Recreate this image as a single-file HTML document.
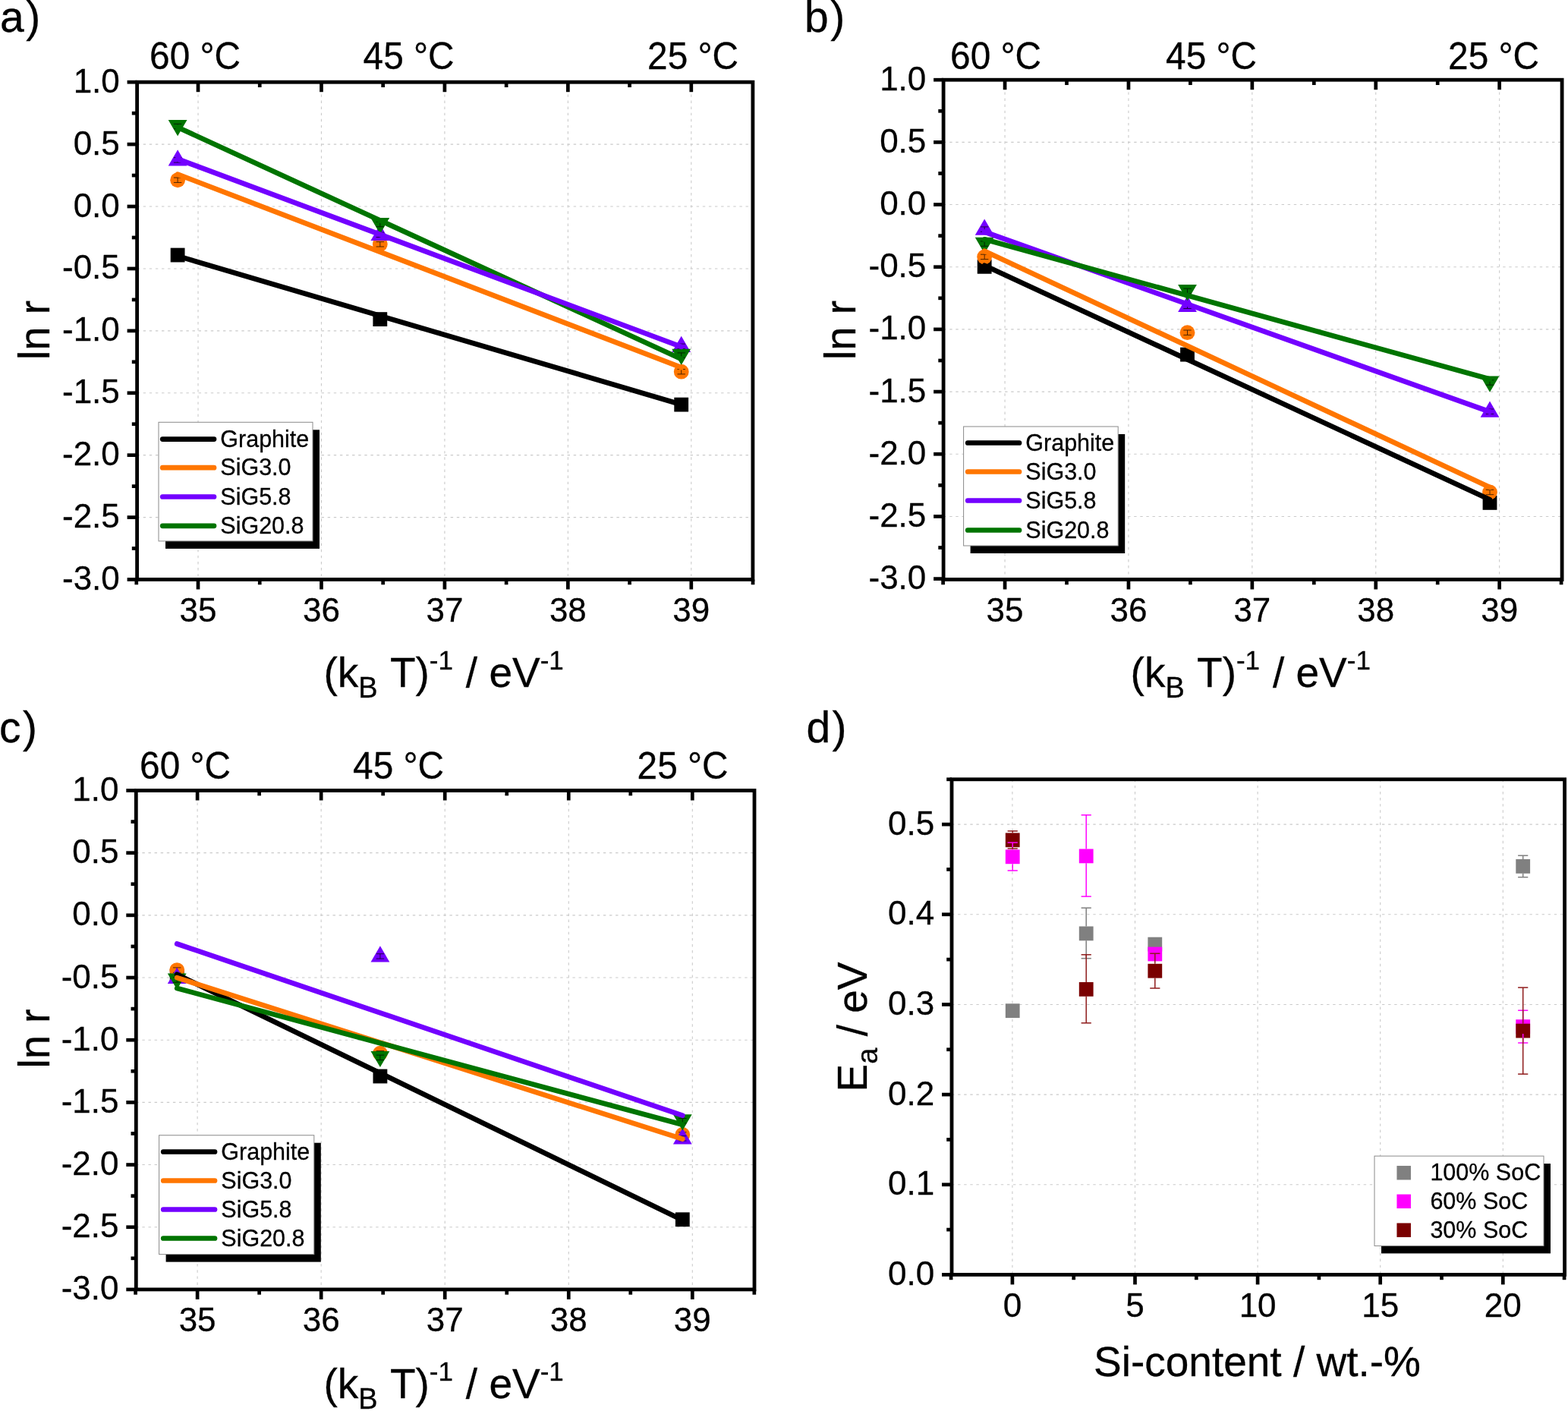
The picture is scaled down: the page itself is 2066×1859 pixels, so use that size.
<!DOCTYPE html>
<html lang="en">
<head>
<meta charset="utf-8">
<title>Arrhenius plots</title>
<style>
html,body{margin:0;padding:0;background:#fff;}
body{width:2066px;height:1859px;overflow:hidden;}
#fig{width:2066px;height:1859px;}
svg text{font-family:"Liberation Sans", Arial, Helvetica, sans-serif;stroke:#000;stroke-width:0.3px;}
</style>
</head>
<body>
<div id="fig">
<svg width="2066" height="1859" viewBox="0 0 2066 1859" font-family='"Liberation Sans", Arial, Helvetica, sans-serif' style="display:block">
<rect x="0" y="0" width="2066" height="1859" fill="#fff"/>
<g>
<line x1="261" y1="108.2" x2="261" y2="763.5" stroke="#cacaca" stroke-width="1.1" stroke-dasharray="3.4 4.7"/>
<line x1="423.45" y1="108.2" x2="423.45" y2="763.5" stroke="#cacaca" stroke-width="1.1" stroke-dasharray="3.4 4.7"/>
<line x1="585.9" y1="108.2" x2="585.9" y2="763.5" stroke="#cacaca" stroke-width="1.1" stroke-dasharray="3.4 4.7"/>
<line x1="748.35" y1="108.2" x2="748.35" y2="763.5" stroke="#cacaca" stroke-width="1.1" stroke-dasharray="3.4 4.7"/>
<line x1="910.8" y1="108.2" x2="910.8" y2="763.5" stroke="#cacaca" stroke-width="1.1" stroke-dasharray="3.4 4.7"/>
<line x1="180.6" y1="190.11" x2="991.9" y2="190.11" stroke="#cacaca" stroke-width="1.1" stroke-dasharray="3.4 4.7"/>
<line x1="180.6" y1="272.02" x2="991.9" y2="272.02" stroke="#cacaca" stroke-width="1.1" stroke-dasharray="3.4 4.7"/>
<line x1="180.6" y1="353.94" x2="991.9" y2="353.94" stroke="#cacaca" stroke-width="1.1" stroke-dasharray="3.4 4.7"/>
<line x1="180.6" y1="435.85" x2="991.9" y2="435.85" stroke="#cacaca" stroke-width="1.1" stroke-dasharray="3.4 4.7"/>
<line x1="180.6" y1="517.76" x2="991.9" y2="517.76" stroke="#cacaca" stroke-width="1.1" stroke-dasharray="3.4 4.7"/>
<line x1="180.6" y1="599.67" x2="991.9" y2="599.67" stroke="#cacaca" stroke-width="1.1" stroke-dasharray="3.4 4.7"/>
<line x1="180.6" y1="681.59" x2="991.9" y2="681.59" stroke="#cacaca" stroke-width="1.1" stroke-dasharray="3.4 4.7"/>
<rect x="224.7" y="326.65" width="18.8" height="18.8" fill="#000"/>
<rect x="491.4" y="411.2" width="18.8" height="18.8" fill="#000"/>
<rect x="888.3" y="523.7" width="18.8" height="18.8" fill="#000"/>
<circle cx="234.1" cy="237.25" r="9.9" fill="#ff7600"/>
<g opacity="0.7">
<line x1="234.1" y1="234.05" x2="234.1" y2="240.45" stroke="#000" stroke-width="1" />
<line x1="228.9" y1="234.05" x2="239.3" y2="234.05" stroke="#000" stroke-width="1" />
<line x1="228.9" y1="240.45" x2="239.3" y2="240.45" stroke="#000" stroke-width="1" />
</g>
<circle cx="500.8" cy="321.8" r="9.9" fill="#ff7600"/>
<g opacity="0.7">
<line x1="500.8" y1="318.6" x2="500.8" y2="325" stroke="#000" stroke-width="1" />
<line x1="495.6" y1="318.6" x2="506" y2="318.6" stroke="#000" stroke-width="1" />
<line x1="495.6" y1="325" x2="506" y2="325" stroke="#000" stroke-width="1" />
</g>
<circle cx="897.7" cy="489.7" r="9.9" fill="#ff7600"/>
<g opacity="0.7">
<line x1="897.7" y1="486.5" x2="897.7" y2="492.9" stroke="#000" stroke-width="1" />
<line x1="892.5" y1="486.5" x2="902.9" y2="486.5" stroke="#000" stroke-width="1" />
<line x1="892.5" y1="492.9" x2="902.9" y2="492.9" stroke="#000" stroke-width="1" />
</g>
<polygon points="234.1,197.3 246.5,218.5 221.7,218.5" fill="#7300ff"/>
<g opacity="0.7">
<line x1="234.1" y1="207.7" x2="234.1" y2="214.1" stroke="#000" stroke-width="1" />
<line x1="228.9" y1="207.7" x2="239.3" y2="207.7" stroke="#000" stroke-width="1" />
<line x1="228.9" y1="214.1" x2="239.3" y2="214.1" stroke="#000" stroke-width="1" />
</g>
<polygon points="500.8,295.7 513.2,316.9 488.4,316.9" fill="#7300ff"/>
<g opacity="0.7">
<line x1="500.8" y1="306.1" x2="500.8" y2="312.5" stroke="#000" stroke-width="1" />
<line x1="495.6" y1="306.1" x2="506" y2="306.1" stroke="#000" stroke-width="1" />
<line x1="495.6" y1="312.5" x2="506" y2="312.5" stroke="#000" stroke-width="1" />
</g>
<polygon points="897.7,442.7 910.1,463.9 885.3,463.9" fill="#7300ff"/>
<g opacity="0.7">
<line x1="897.7" y1="453.1" x2="897.7" y2="459.5" stroke="#000" stroke-width="1" />
<line x1="892.5" y1="453.1" x2="902.9" y2="453.1" stroke="#000" stroke-width="1" />
<line x1="892.5" y1="459.5" x2="902.9" y2="459.5" stroke="#000" stroke-width="1" />
</g>
<polygon points="234.1,179.3 246.5,158.1 221.7,158.1" fill="#007400"/>
<g opacity="0.7">
<line x1="234.1" y1="163.3" x2="234.1" y2="169.7" stroke="#000" stroke-width="1" />
<line x1="228.9" y1="163.3" x2="239.3" y2="163.3" stroke="#000" stroke-width="1" />
<line x1="228.9" y1="169.7" x2="239.3" y2="169.7" stroke="#000" stroke-width="1" />
</g>
<polygon points="500.8,308.3 513.2,287.1 488.4,287.1" fill="#007400"/>
<g opacity="0.7">
<line x1="500.8" y1="292.3" x2="500.8" y2="298.7" stroke="#000" stroke-width="1" />
<line x1="495.6" y1="292.3" x2="506" y2="292.3" stroke="#000" stroke-width="1" />
<line x1="495.6" y1="298.7" x2="506" y2="298.7" stroke="#000" stroke-width="1" />
</g>
<polygon points="897.7,480.9 910.1,459.7 885.3,459.7" fill="#007400"/>
<g opacity="0.7">
<line x1="897.7" y1="464.9" x2="897.7" y2="471.3" stroke="#000" stroke-width="1" />
<line x1="892.5" y1="464.9" x2="902.9" y2="464.9" stroke="#000" stroke-width="1" />
<line x1="892.5" y1="471.3" x2="902.9" y2="471.3" stroke="#000" stroke-width="1" />
</g>
<polyline points="234.1,337.4 897.7,533" fill="none" stroke="#000" stroke-width="6.7" stroke-linejoin="round" stroke-linecap="round"/>
<polyline points="234.1,229.6 897.7,484.1" fill="none" stroke="#ff7600" stroke-width="6.7" stroke-linejoin="round" stroke-linecap="round"/>
<polyline points="234.1,167.7 897.7,473" fill="none" stroke="#007400" stroke-width="6.7" stroke-linejoin="round" stroke-linecap="round"/>
<polyline points="234.1,209.5 897.7,456.8" fill="none" stroke="#7300ff" stroke-width="6.7" stroke-linejoin="round" stroke-linecap="round"/>
<rect x="218" y="566.3" width="203" height="156.6" fill="#000"/>
<rect x="209" y="556.3" width="203" height="156.6" fill="#fff" stroke="#8a8a8a" stroke-width="1"/>
<line x1="214.2" y1="578.6" x2="282" y2="578.6" stroke="#000" stroke-width="6.7" stroke-linecap="round"/>
<text transform="translate(290.3 588.6) scale(1 1.02)" font-size="30.5" text-anchor="start" fill="#000" >Graphite</text>
<line x1="214.2" y1="616.2" x2="282" y2="616.2" stroke="#ff7600" stroke-width="6.7" stroke-linecap="round"/>
<text transform="translate(290.3 626.2) scale(1 1.02)" font-size="30.5" text-anchor="start" fill="#000" >SiG3.0</text>
<line x1="214.2" y1="654.5" x2="282" y2="654.5" stroke="#7300ff" stroke-width="6.7" stroke-linecap="round"/>
<text transform="translate(290.3 664.5) scale(1 1.02)" font-size="30.5" text-anchor="start" fill="#000" >SiG5.8</text>
<line x1="214.2" y1="692.8" x2="282" y2="692.8" stroke="#007400" stroke-width="6.7" stroke-linecap="round"/>
<text transform="translate(290.3 702.8) scale(1 1.02)" font-size="30.5" text-anchor="start" fill="#000" >SiG20.8</text>
<rect x="180.6" y="108.2" width="811.3" height="655.3" fill="none" stroke="#000" stroke-width="4.8"/>
<line x1="167.6" y1="108.2" x2="180.6" y2="108.2" stroke="#000" stroke-width="4.7" />
<line x1="173.8" y1="149.16" x2="180.6" y2="149.16" stroke="#000" stroke-width="4.7" />
<line x1="167.6" y1="190.11" x2="180.6" y2="190.11" stroke="#000" stroke-width="4.7" />
<line x1="173.8" y1="231.07" x2="180.6" y2="231.07" stroke="#000" stroke-width="4.7" />
<line x1="167.6" y1="272.02" x2="180.6" y2="272.02" stroke="#000" stroke-width="4.7" />
<line x1="173.8" y1="312.98" x2="180.6" y2="312.98" stroke="#000" stroke-width="4.7" />
<line x1="167.6" y1="353.94" x2="180.6" y2="353.94" stroke="#000" stroke-width="4.7" />
<line x1="173.8" y1="394.89" x2="180.6" y2="394.89" stroke="#000" stroke-width="4.7" />
<line x1="167.6" y1="435.85" x2="180.6" y2="435.85" stroke="#000" stroke-width="4.7" />
<line x1="173.8" y1="476.81" x2="180.6" y2="476.81" stroke="#000" stroke-width="4.7" />
<line x1="167.6" y1="517.76" x2="180.6" y2="517.76" stroke="#000" stroke-width="4.7" />
<line x1="173.8" y1="558.72" x2="180.6" y2="558.72" stroke="#000" stroke-width="4.7" />
<line x1="167.6" y1="599.67" x2="180.6" y2="599.67" stroke="#000" stroke-width="4.7" />
<line x1="173.8" y1="640.63" x2="180.6" y2="640.63" stroke="#000" stroke-width="4.7" />
<line x1="167.6" y1="681.59" x2="180.6" y2="681.59" stroke="#000" stroke-width="4.7" />
<line x1="173.8" y1="722.54" x2="180.6" y2="722.54" stroke="#000" stroke-width="4.7" />
<line x1="167.6" y1="763.5" x2="180.6" y2="763.5" stroke="#000" stroke-width="4.7" />
<line x1="179.78" y1="763.5" x2="179.78" y2="770.3" stroke="#000" stroke-width="4.7" />
<line x1="261" y1="763.5" x2="261" y2="776.5" stroke="#000" stroke-width="4.7" />
<line x1="342.23" y1="763.5" x2="342.23" y2="770.3" stroke="#000" stroke-width="4.7" />
<line x1="423.45" y1="763.5" x2="423.45" y2="776.5" stroke="#000" stroke-width="4.7" />
<line x1="504.67" y1="763.5" x2="504.67" y2="770.3" stroke="#000" stroke-width="4.7" />
<line x1="585.9" y1="763.5" x2="585.9" y2="776.5" stroke="#000" stroke-width="4.7" />
<line x1="667.12" y1="763.5" x2="667.12" y2="770.3" stroke="#000" stroke-width="4.7" />
<line x1="748.35" y1="763.5" x2="748.35" y2="776.5" stroke="#000" stroke-width="4.7" />
<line x1="829.57" y1="763.5" x2="829.57" y2="770.3" stroke="#000" stroke-width="4.7" />
<line x1="910.8" y1="763.5" x2="910.8" y2="776.5" stroke="#000" stroke-width="4.7" />
<line x1="992.02" y1="763.5" x2="992.02" y2="770.3" stroke="#000" stroke-width="4.7" />
<line x1="261" y1="108.2" x2="261" y2="121.2" stroke="#000" stroke-width="4.7" />
<line x1="342.23" y1="108.2" x2="342.23" y2="115" stroke="#000" stroke-width="4.7" />
<line x1="423.45" y1="108.2" x2="423.45" y2="121.2" stroke="#000" stroke-width="4.7" />
<line x1="504.67" y1="108.2" x2="504.67" y2="115" stroke="#000" stroke-width="4.7" />
<line x1="585.9" y1="108.2" x2="585.9" y2="121.2" stroke="#000" stroke-width="4.7" />
<line x1="667.12" y1="108.2" x2="667.12" y2="115" stroke="#000" stroke-width="4.7" />
<line x1="748.35" y1="108.2" x2="748.35" y2="121.2" stroke="#000" stroke-width="4.7" />
<line x1="829.57" y1="108.2" x2="829.57" y2="115" stroke="#000" stroke-width="4.7" />
<line x1="910.8" y1="108.2" x2="910.8" y2="121.2" stroke="#000" stroke-width="4.7" />
<text transform="translate(157.8 121.7) scale(1 1.02)" font-size="44" text-anchor="end" fill="#000" >1.0</text>
<text transform="translate(157.8 203.61) scale(1 1.02)" font-size="44" text-anchor="end" fill="#000" >0.5</text>
<text transform="translate(157.8 285.52) scale(1 1.02)" font-size="44" text-anchor="end" fill="#000" >0.0</text>
<text transform="translate(157.8 367.44) scale(1 1.02)" font-size="44" text-anchor="end" fill="#000" >-0.5</text>
<text transform="translate(157.8 449.35) scale(1 1.02)" font-size="44" text-anchor="end" fill="#000" >-1.0</text>
<text transform="translate(157.8 531.26) scale(1 1.02)" font-size="44" text-anchor="end" fill="#000" >-1.5</text>
<text transform="translate(157.8 613.17) scale(1 1.02)" font-size="44" text-anchor="end" fill="#000" >-2.0</text>
<text transform="translate(157.8 695.09) scale(1 1.02)" font-size="44" text-anchor="end" fill="#000" >-2.5</text>
<text transform="translate(157.8 777) scale(1 1.02)" font-size="44" text-anchor="end" fill="#000" >-3.0</text>
<text transform="translate(261 819) scale(1 1.02)" font-size="44" text-anchor="middle" fill="#000" >35</text>
<text transform="translate(423.45 819) scale(1 1.02)" font-size="44" text-anchor="middle" fill="#000" >36</text>
<text transform="translate(585.9 819) scale(1 1.02)" font-size="44" text-anchor="middle" fill="#000" >37</text>
<text transform="translate(748.35 819) scale(1 1.02)" font-size="44" text-anchor="middle" fill="#000" >38</text>
<text transform="translate(910.8 819) scale(1 1.02)" font-size="44" text-anchor="middle" fill="#000" >39</text>
<text transform="translate(257 90.5) scale(1 1.05)" font-size="47.7" text-anchor="middle" fill="#000" >60 °C</text>
<text transform="translate(538.5 90.5) scale(1 1.05)" font-size="47.7" text-anchor="middle" fill="#000" >45 °C</text>
<text transform="translate(913 90.5) scale(1 1.05)" font-size="47.7" text-anchor="middle" fill="#000" >25 °C</text>
<text transform="translate(65.4 435) rotate(-90) scale(1 1.02)" font-size="56.4" text-anchor="middle">ln r</text>
<text transform="translate(426.5 904.5) scale(1 1.02)" font-size="55" text-anchor="start">(k<tspan font-size="38" dy="14">B</tspan><tspan dy="-14" dx="2"> T)</tspan><tspan font-size="35" dy="-22">-1</tspan><tspan dy="22" dx="1.6"> / eV</tspan><tspan font-size="35" dy="-22">-1</tspan></text>
<text transform="translate(0 42) scale(1 1.0)" font-size="57" text-anchor="start" fill="#000" >a<tspan dx="2.5">)</tspan></text>
</g>
<g>
<line x1="1324.05" y1="105.2" x2="1324.05" y2="763.5" stroke="#cacaca" stroke-width="1.1" stroke-dasharray="3.4 4.7"/>
<line x1="1486.95" y1="105.2" x2="1486.95" y2="763.5" stroke="#cacaca" stroke-width="1.1" stroke-dasharray="3.4 4.7"/>
<line x1="1649.85" y1="105.2" x2="1649.85" y2="763.5" stroke="#cacaca" stroke-width="1.1" stroke-dasharray="3.4 4.7"/>
<line x1="1812.75" y1="105.2" x2="1812.75" y2="763.5" stroke="#cacaca" stroke-width="1.1" stroke-dasharray="3.4 4.7"/>
<line x1="1975.65" y1="105.2" x2="1975.65" y2="763.5" stroke="#cacaca" stroke-width="1.1" stroke-dasharray="3.4 4.7"/>
<line x1="1243.1" y1="187.38" x2="2058.1" y2="187.38" stroke="#cacaca" stroke-width="1.1" stroke-dasharray="3.4 4.7"/>
<line x1="1243.1" y1="269.55" x2="2058.1" y2="269.55" stroke="#cacaca" stroke-width="1.1" stroke-dasharray="3.4 4.7"/>
<line x1="1243.1" y1="351.72" x2="2058.1" y2="351.72" stroke="#cacaca" stroke-width="1.1" stroke-dasharray="3.4 4.7"/>
<line x1="1243.1" y1="433.9" x2="2058.1" y2="433.9" stroke="#cacaca" stroke-width="1.1" stroke-dasharray="3.4 4.7"/>
<line x1="1243.1" y1="516.08" x2="2058.1" y2="516.08" stroke="#cacaca" stroke-width="1.1" stroke-dasharray="3.4 4.7"/>
<line x1="1243.1" y1="598.25" x2="2058.1" y2="598.25" stroke="#cacaca" stroke-width="1.1" stroke-dasharray="3.4 4.7"/>
<line x1="1243.1" y1="680.43" x2="2058.1" y2="680.43" stroke="#cacaca" stroke-width="1.1" stroke-dasharray="3.4 4.7"/>
<rect x="1287.75" y="341.9" width="18.8" height="18.8" fill="#000"/>
<rect x="1555.1" y="457.7" width="18.8" height="18.8" fill="#000"/>
<rect x="1953.6" y="653" width="18.8" height="18.8" fill="#000"/>
<circle cx="1297.15" cy="338.4" r="9.9" fill="#ff7600"/>
<g opacity="0.7">
<line x1="1297.15" y1="335.2" x2="1297.15" y2="341.6" stroke="#000" stroke-width="1" />
<line x1="1291.95" y1="335.2" x2="1302.35" y2="335.2" stroke="#000" stroke-width="1" />
<line x1="1291.95" y1="341.6" x2="1302.35" y2="341.6" stroke="#000" stroke-width="1" />
</g>
<circle cx="1564.5" cy="438.2" r="9.9" fill="#ff7600"/>
<g opacity="0.7">
<line x1="1564.5" y1="435" x2="1564.5" y2="441.4" stroke="#000" stroke-width="1" />
<line x1="1559.3" y1="435" x2="1569.7" y2="435" stroke="#000" stroke-width="1" />
<line x1="1559.3" y1="441.4" x2="1569.7" y2="441.4" stroke="#000" stroke-width="1" />
</g>
<circle cx="1963" cy="648.5" r="9.9" fill="#ff7600"/>
<g opacity="0.7">
<line x1="1963" y1="645.3" x2="1963" y2="651.7" stroke="#000" stroke-width="1" />
<line x1="1957.8" y1="645.3" x2="1968.2" y2="645.3" stroke="#000" stroke-width="1" />
<line x1="1957.8" y1="651.7" x2="1968.2" y2="651.7" stroke="#000" stroke-width="1" />
</g>
<polygon points="1297.15,288.5 1309.55,309.7 1284.75,309.7" fill="#7300ff"/>
<g opacity="0.7">
<line x1="1297.15" y1="298.9" x2="1297.15" y2="305.3" stroke="#000" stroke-width="1" />
<line x1="1291.95" y1="298.9" x2="1302.35" y2="298.9" stroke="#000" stroke-width="1" />
<line x1="1291.95" y1="305.3" x2="1302.35" y2="305.3" stroke="#000" stroke-width="1" />
</g>
<polygon points="1564.5,389.7 1576.9,410.9 1552.1,410.9" fill="#7300ff"/>
<g opacity="0.7">
<line x1="1564.5" y1="400.1" x2="1564.5" y2="406.5" stroke="#000" stroke-width="1" />
<line x1="1559.3" y1="400.1" x2="1569.7" y2="400.1" stroke="#000" stroke-width="1" />
<line x1="1559.3" y1="406.5" x2="1569.7" y2="406.5" stroke="#000" stroke-width="1" />
</g>
<polygon points="1963,528.6 1975.4,549.8 1950.6,549.8" fill="#7300ff"/>
<g opacity="0.7">
<line x1="1963" y1="539" x2="1963" y2="545.4" stroke="#000" stroke-width="1" />
<line x1="1957.8" y1="539" x2="1968.2" y2="539" stroke="#000" stroke-width="1" />
<line x1="1957.8" y1="545.4" x2="1968.2" y2="545.4" stroke="#000" stroke-width="1" />
</g>
<polygon points="1297.15,333.9 1309.55,312.7 1284.75,312.7" fill="#007400"/>
<g opacity="0.7">
<line x1="1297.15" y1="317.9" x2="1297.15" y2="324.3" stroke="#000" stroke-width="1" />
<line x1="1291.95" y1="317.9" x2="1302.35" y2="317.9" stroke="#000" stroke-width="1" />
<line x1="1291.95" y1="324.3" x2="1302.35" y2="324.3" stroke="#000" stroke-width="1" />
</g>
<polygon points="1564.5,396.25 1576.9,375.05 1552.1,375.05" fill="#007400"/>
<g opacity="0.7">
<line x1="1564.5" y1="380.25" x2="1564.5" y2="386.65" stroke="#000" stroke-width="1" />
<line x1="1559.3" y1="380.25" x2="1569.7" y2="380.25" stroke="#000" stroke-width="1" />
<line x1="1559.3" y1="386.65" x2="1569.7" y2="386.65" stroke="#000" stroke-width="1" />
</g>
<polygon points="1963,516.8 1975.4,495.6 1950.6,495.6" fill="#007400"/>
<g opacity="0.7">
<line x1="1963" y1="500.8" x2="1963" y2="507.2" stroke="#000" stroke-width="1" />
<line x1="1957.8" y1="500.8" x2="1968.2" y2="500.8" stroke="#000" stroke-width="1" />
<line x1="1957.8" y1="507.2" x2="1968.2" y2="507.2" stroke="#000" stroke-width="1" />
</g>
<polyline points="1297.15,349.7 1963,658.2" fill="none" stroke="#000" stroke-width="6.7" stroke-linejoin="round" stroke-linecap="round"/>
<polyline points="1297.15,330.7 1963,642" fill="none" stroke="#ff7600" stroke-width="6.7" stroke-linejoin="round" stroke-linecap="round"/>
<polyline points="1297.15,305.5 1963,542.5" fill="none" stroke="#7300ff" stroke-width="6.7" stroke-linejoin="round" stroke-linecap="round"/>
<polyline points="1297.15,315.3 1963,499.6" fill="none" stroke="#007400" stroke-width="6.7" stroke-linejoin="round" stroke-linecap="round"/>
<rect x="1278.6" y="572" width="203.6" height="157" fill="#000"/>
<rect x="1269.6" y="562" width="203.6" height="157" fill="#fff" stroke="#8a8a8a" stroke-width="1"/>
<line x1="1275.2" y1="583.5" x2="1343" y2="583.5" stroke="#000" stroke-width="6.7" stroke-linecap="round"/>
<text transform="translate(1351.3 593.5) scale(1 1.02)" font-size="30.5" text-anchor="start" fill="#000" >Graphite</text>
<line x1="1275.2" y1="621.5" x2="1343" y2="621.5" stroke="#ff7600" stroke-width="6.7" stroke-linecap="round"/>
<text transform="translate(1351.3 631.5) scale(1 1.02)" font-size="30.5" text-anchor="start" fill="#000" >SiG3.0</text>
<line x1="1275.2" y1="659.5" x2="1343" y2="659.5" stroke="#7300ff" stroke-width="6.7" stroke-linecap="round"/>
<text transform="translate(1351.3 669.5) scale(1 1.02)" font-size="30.5" text-anchor="start" fill="#000" >SiG5.8</text>
<line x1="1275.2" y1="698.5" x2="1343" y2="698.5" stroke="#007400" stroke-width="6.7" stroke-linecap="round"/>
<text transform="translate(1351.3 708.5) scale(1 1.02)" font-size="30.5" text-anchor="start" fill="#000" >SiG20.8</text>
<rect x="1243.1" y="105.2" width="815" height="658.3" fill="none" stroke="#000" stroke-width="4.8"/>
<line x1="1230.1" y1="105.2" x2="1243.1" y2="105.2" stroke="#000" stroke-width="4.7" />
<line x1="1236.3" y1="146.29" x2="1243.1" y2="146.29" stroke="#000" stroke-width="4.7" />
<line x1="1230.1" y1="187.38" x2="1243.1" y2="187.38" stroke="#000" stroke-width="4.7" />
<line x1="1236.3" y1="228.46" x2="1243.1" y2="228.46" stroke="#000" stroke-width="4.7" />
<line x1="1230.1" y1="269.55" x2="1243.1" y2="269.55" stroke="#000" stroke-width="4.7" />
<line x1="1236.3" y1="310.64" x2="1243.1" y2="310.64" stroke="#000" stroke-width="4.7" />
<line x1="1230.1" y1="351.72" x2="1243.1" y2="351.72" stroke="#000" stroke-width="4.7" />
<line x1="1236.3" y1="392.81" x2="1243.1" y2="392.81" stroke="#000" stroke-width="4.7" />
<line x1="1230.1" y1="433.9" x2="1243.1" y2="433.9" stroke="#000" stroke-width="4.7" />
<line x1="1236.3" y1="474.99" x2="1243.1" y2="474.99" stroke="#000" stroke-width="4.7" />
<line x1="1230.1" y1="516.08" x2="1243.1" y2="516.08" stroke="#000" stroke-width="4.7" />
<line x1="1236.3" y1="557.16" x2="1243.1" y2="557.16" stroke="#000" stroke-width="4.7" />
<line x1="1230.1" y1="598.25" x2="1243.1" y2="598.25" stroke="#000" stroke-width="4.7" />
<line x1="1236.3" y1="639.34" x2="1243.1" y2="639.34" stroke="#000" stroke-width="4.7" />
<line x1="1230.1" y1="680.43" x2="1243.1" y2="680.43" stroke="#000" stroke-width="4.7" />
<line x1="1236.3" y1="721.51" x2="1243.1" y2="721.51" stroke="#000" stroke-width="4.7" />
<line x1="1230.1" y1="762.6" x2="1243.1" y2="762.6" stroke="#000" stroke-width="4.7" />
<line x1="1242.6" y1="763.5" x2="1242.6" y2="770.3" stroke="#000" stroke-width="4.7" />
<line x1="1324.05" y1="763.5" x2="1324.05" y2="776.5" stroke="#000" stroke-width="4.7" />
<line x1="1405.5" y1="763.5" x2="1405.5" y2="770.3" stroke="#000" stroke-width="4.7" />
<line x1="1486.95" y1="763.5" x2="1486.95" y2="776.5" stroke="#000" stroke-width="4.7" />
<line x1="1568.4" y1="763.5" x2="1568.4" y2="770.3" stroke="#000" stroke-width="4.7" />
<line x1="1649.85" y1="763.5" x2="1649.85" y2="776.5" stroke="#000" stroke-width="4.7" />
<line x1="1731.3" y1="763.5" x2="1731.3" y2="770.3" stroke="#000" stroke-width="4.7" />
<line x1="1812.75" y1="763.5" x2="1812.75" y2="776.5" stroke="#000" stroke-width="4.7" />
<line x1="1894.2" y1="763.5" x2="1894.2" y2="770.3" stroke="#000" stroke-width="4.7" />
<line x1="1975.65" y1="763.5" x2="1975.65" y2="776.5" stroke="#000" stroke-width="4.7" />
<line x1="2057.1" y1="763.5" x2="2057.1" y2="770.3" stroke="#000" stroke-width="4.7" />
<line x1="1324.05" y1="105.2" x2="1324.05" y2="118.2" stroke="#000" stroke-width="4.7" />
<line x1="1405.5" y1="105.2" x2="1405.5" y2="112" stroke="#000" stroke-width="4.7" />
<line x1="1486.95" y1="105.2" x2="1486.95" y2="118.2" stroke="#000" stroke-width="4.7" />
<line x1="1568.4" y1="105.2" x2="1568.4" y2="112" stroke="#000" stroke-width="4.7" />
<line x1="1649.85" y1="105.2" x2="1649.85" y2="118.2" stroke="#000" stroke-width="4.7" />
<line x1="1731.3" y1="105.2" x2="1731.3" y2="112" stroke="#000" stroke-width="4.7" />
<line x1="1812.75" y1="105.2" x2="1812.75" y2="118.2" stroke="#000" stroke-width="4.7" />
<line x1="1894.2" y1="105.2" x2="1894.2" y2="112" stroke="#000" stroke-width="4.7" />
<line x1="1975.65" y1="105.2" x2="1975.65" y2="118.2" stroke="#000" stroke-width="4.7" />
<text transform="translate(1220.3 118.7) scale(1 1.02)" font-size="44" text-anchor="end" fill="#000" >1.0</text>
<text transform="translate(1220.3 200.88) scale(1 1.02)" font-size="44" text-anchor="end" fill="#000" >0.5</text>
<text transform="translate(1220.3 283.05) scale(1 1.02)" font-size="44" text-anchor="end" fill="#000" >0.0</text>
<text transform="translate(1220.3 365.22) scale(1 1.02)" font-size="44" text-anchor="end" fill="#000" >-0.5</text>
<text transform="translate(1220.3 447.4) scale(1 1.02)" font-size="44" text-anchor="end" fill="#000" >-1.0</text>
<text transform="translate(1220.3 529.58) scale(1 1.02)" font-size="44" text-anchor="end" fill="#000" >-1.5</text>
<text transform="translate(1220.3 611.75) scale(1 1.02)" font-size="44" text-anchor="end" fill="#000" >-2.0</text>
<text transform="translate(1220.3 693.93) scale(1 1.02)" font-size="44" text-anchor="end" fill="#000" >-2.5</text>
<text transform="translate(1220.3 776.1) scale(1 1.02)" font-size="44" text-anchor="end" fill="#000" >-3.0</text>
<text transform="translate(1324.05 819) scale(1 1.02)" font-size="44" text-anchor="middle" fill="#000" >35</text>
<text transform="translate(1486.95 819) scale(1 1.02)" font-size="44" text-anchor="middle" fill="#000" >36</text>
<text transform="translate(1649.85 819) scale(1 1.02)" font-size="44" text-anchor="middle" fill="#000" >37</text>
<text transform="translate(1812.75 819) scale(1 1.02)" font-size="44" text-anchor="middle" fill="#000" >38</text>
<text transform="translate(1975.65 819) scale(1 1.02)" font-size="44" text-anchor="middle" fill="#000" >39</text>
<text transform="translate(1312 90.8) scale(1 1.05)" font-size="47.7" text-anchor="middle" fill="#000" >60 °C</text>
<text transform="translate(1596 90.8) scale(1 1.05)" font-size="47.7" text-anchor="middle" fill="#000" >45 °C</text>
<text transform="translate(1968 90.8) scale(1 1.05)" font-size="47.7" text-anchor="middle" fill="#000" >25 °C</text>
<text transform="translate(1127 435) rotate(-90) scale(1 1.02)" font-size="56.4" text-anchor="middle">ln r</text>
<text transform="translate(1489.6 904.5) scale(1 1.02)" font-size="55" text-anchor="start">(k<tspan font-size="38" dy="14">B</tspan><tspan dy="-14" dx="2"> T)</tspan><tspan font-size="35" dy="-22">-1</tspan><tspan dy="22" dx="1.6"> / eV</tspan><tspan font-size="35" dy="-22">-1</tspan></text>
<text transform="translate(1060 42) scale(1 1.0)" font-size="57" text-anchor="start" fill="#000" >b<tspan dx="2.5">)</tspan></text>
</g>
<g>
<line x1="260.1" y1="1041.5" x2="260.1" y2="1698.9" stroke="#cacaca" stroke-width="1.1" stroke-dasharray="3.4 4.7"/>
<line x1="423.15" y1="1041.5" x2="423.15" y2="1698.9" stroke="#cacaca" stroke-width="1.1" stroke-dasharray="3.4 4.7"/>
<line x1="586.2" y1="1041.5" x2="586.2" y2="1698.9" stroke="#cacaca" stroke-width="1.1" stroke-dasharray="3.4 4.7"/>
<line x1="749.25" y1="1041.5" x2="749.25" y2="1698.9" stroke="#cacaca" stroke-width="1.1" stroke-dasharray="3.4 4.7"/>
<line x1="912.3" y1="1041.5" x2="912.3" y2="1698.9" stroke="#cacaca" stroke-width="1.1" stroke-dasharray="3.4 4.7"/>
<line x1="179.3" y1="1123.67" x2="994" y2="1123.67" stroke="#cacaca" stroke-width="1.1" stroke-dasharray="3.4 4.7"/>
<line x1="179.3" y1="1205.85" x2="994" y2="1205.85" stroke="#cacaca" stroke-width="1.1" stroke-dasharray="3.4 4.7"/>
<line x1="179.3" y1="1288.03" x2="994" y2="1288.03" stroke="#cacaca" stroke-width="1.1" stroke-dasharray="3.4 4.7"/>
<line x1="179.3" y1="1370.2" x2="994" y2="1370.2" stroke="#cacaca" stroke-width="1.1" stroke-dasharray="3.4 4.7"/>
<line x1="179.3" y1="1452.38" x2="994" y2="1452.38" stroke="#cacaca" stroke-width="1.1" stroke-dasharray="3.4 4.7"/>
<line x1="179.3" y1="1534.55" x2="994" y2="1534.55" stroke="#cacaca" stroke-width="1.1" stroke-dasharray="3.4 4.7"/>
<line x1="179.3" y1="1616.73" x2="994" y2="1616.73" stroke="#cacaca" stroke-width="1.1" stroke-dasharray="3.4 4.7"/>
<rect x="223.8" y="1276.6" width="18.8" height="18.8" fill="#000"/>
<rect x="491.5" y="1408.6" width="18.8" height="18.8" fill="#000"/>
<rect x="889.9" y="1597.3" width="18.8" height="18.8" fill="#000"/>
<circle cx="233.2" cy="1278.1" r="9.9" fill="#ff7600"/>
<g opacity="0.7">
<line x1="233.2" y1="1274.9" x2="233.2" y2="1281.3" stroke="#000" stroke-width="1" />
<line x1="228" y1="1274.9" x2="238.4" y2="1274.9" stroke="#000" stroke-width="1" />
<line x1="228" y1="1281.3" x2="238.4" y2="1281.3" stroke="#000" stroke-width="1" />
</g>
<circle cx="500.9" cy="1387.7" r="9.9" fill="#ff7600"/>
<g opacity="0.7">
<line x1="500.9" y1="1384.5" x2="500.9" y2="1390.9" stroke="#000" stroke-width="1" />
<line x1="495.7" y1="1384.5" x2="506.1" y2="1384.5" stroke="#000" stroke-width="1" />
<line x1="495.7" y1="1390.9" x2="506.1" y2="1390.9" stroke="#000" stroke-width="1" />
</g>
<circle cx="899.3" cy="1494.9" r="9.9" fill="#ff7600"/>
<g opacity="0.7">
<line x1="899.3" y1="1491.7" x2="899.3" y2="1498.1" stroke="#000" stroke-width="1" />
<line x1="894.1" y1="1491.7" x2="904.5" y2="1491.7" stroke="#000" stroke-width="1" />
<line x1="894.1" y1="1498.1" x2="904.5" y2="1498.1" stroke="#000" stroke-width="1" />
</g>
<polygon points="233.2,1274.7 245.6,1295.9 220.8,1295.9" fill="#7300ff"/>
<g opacity="0.7">
<line x1="233.2" y1="1285.1" x2="233.2" y2="1291.5" stroke="#000" stroke-width="1" />
<line x1="228" y1="1285.1" x2="238.4" y2="1285.1" stroke="#000" stroke-width="1" />
<line x1="228" y1="1291.5" x2="238.4" y2="1291.5" stroke="#000" stroke-width="1" />
</g>
<polygon points="500.9,1246.3 513.3,1267.5 488.5,1267.5" fill="#7300ff"/>
<g opacity="0.7">
<line x1="500.9" y1="1256.7" x2="500.9" y2="1263.1" stroke="#000" stroke-width="1" />
<line x1="495.7" y1="1256.7" x2="506.1" y2="1256.7" stroke="#000" stroke-width="1" />
<line x1="495.7" y1="1263.1" x2="506.1" y2="1263.1" stroke="#000" stroke-width="1" />
</g>
<polygon points="899.3,1486.2 911.7,1507.4 886.9,1507.4" fill="#7300ff"/>
<g opacity="0.7">
<line x1="899.3" y1="1496.6" x2="899.3" y2="1503" stroke="#000" stroke-width="1" />
<line x1="894.1" y1="1496.6" x2="904.5" y2="1496.6" stroke="#000" stroke-width="1" />
<line x1="894.1" y1="1503" x2="904.5" y2="1503" stroke="#000" stroke-width="1" />
</g>
<polygon points="233.2,1303.8 245.6,1282.6 220.8,1282.6" fill="#007400"/>
<g opacity="0.7">
<line x1="233.2" y1="1287.8" x2="233.2" y2="1294.2" stroke="#000" stroke-width="1" />
<line x1="228" y1="1287.8" x2="238.4" y2="1287.8" stroke="#000" stroke-width="1" />
<line x1="228" y1="1294.2" x2="238.4" y2="1294.2" stroke="#000" stroke-width="1" />
</g>
<polygon points="500.9,1406.1 513.3,1384.9 488.5,1384.9" fill="#007400"/>
<g opacity="0.7">
<line x1="500.9" y1="1390.1" x2="500.9" y2="1396.5" stroke="#000" stroke-width="1" />
<line x1="495.7" y1="1390.1" x2="506.1" y2="1390.1" stroke="#000" stroke-width="1" />
<line x1="495.7" y1="1396.5" x2="506.1" y2="1396.5" stroke="#000" stroke-width="1" />
</g>
<polygon points="899.3,1489.5 911.7,1468.3 886.9,1468.3" fill="#007400"/>
<g opacity="0.7">
<line x1="899.3" y1="1473.5" x2="899.3" y2="1479.9" stroke="#000" stroke-width="1" />
<line x1="894.1" y1="1473.5" x2="904.5" y2="1473.5" stroke="#000" stroke-width="1" />
<line x1="894.1" y1="1479.9" x2="904.5" y2="1479.9" stroke="#000" stroke-width="1" />
</g>
<polyline points="233.2,1283.8 899.3,1607.4" fill="none" stroke="#000" stroke-width="6.7" stroke-linejoin="round" stroke-linecap="round"/>
<polyline points="233.2,1288.1 899.3,1500.6" fill="none" stroke="#ff7600" stroke-width="6.7" stroke-linejoin="round" stroke-linecap="round"/>
<polyline points="233.2,1243.5 899.3,1469.7" fill="none" stroke="#7300ff" stroke-width="6.7" stroke-linejoin="round" stroke-linecap="round"/>
<polyline points="233.2,1302 899.3,1481.7" fill="none" stroke="#007400" stroke-width="6.7" stroke-linejoin="round" stroke-linecap="round"/>
<rect x="218.6" y="1505.7" width="204.2" height="156.9" fill="#000"/>
<rect x="209.6" y="1495.7" width="204.2" height="156.9" fill="#fff" stroke="#8a8a8a" stroke-width="1"/>
<line x1="215.2" y1="1517.5" x2="283" y2="1517.5" stroke="#000" stroke-width="6.7" stroke-linecap="round"/>
<text transform="translate(291.3 1527.5) scale(1 1.02)" font-size="30.5" text-anchor="start" fill="#000" >Graphite</text>
<line x1="215.2" y1="1555.5" x2="283" y2="1555.5" stroke="#ff7600" stroke-width="6.7" stroke-linecap="round"/>
<text transform="translate(291.3 1565.5) scale(1 1.02)" font-size="30.5" text-anchor="start" fill="#000" >SiG3.0</text>
<line x1="215.2" y1="1593.5" x2="283" y2="1593.5" stroke="#7300ff" stroke-width="6.7" stroke-linecap="round"/>
<text transform="translate(291.3 1603.5) scale(1 1.02)" font-size="30.5" text-anchor="start" fill="#000" >SiG5.8</text>
<line x1="215.2" y1="1631.5" x2="283" y2="1631.5" stroke="#007400" stroke-width="6.7" stroke-linecap="round"/>
<text transform="translate(291.3 1641.5) scale(1 1.02)" font-size="30.5" text-anchor="start" fill="#000" >SiG20.8</text>
<rect x="179.3" y="1041.5" width="814.7" height="657.4" fill="none" stroke="#000" stroke-width="4.8"/>
<line x1="166.3" y1="1041.5" x2="179.3" y2="1041.5" stroke="#000" stroke-width="4.7" />
<line x1="172.5" y1="1082.59" x2="179.3" y2="1082.59" stroke="#000" stroke-width="4.7" />
<line x1="166.3" y1="1123.67" x2="179.3" y2="1123.67" stroke="#000" stroke-width="4.7" />
<line x1="172.5" y1="1164.76" x2="179.3" y2="1164.76" stroke="#000" stroke-width="4.7" />
<line x1="166.3" y1="1205.85" x2="179.3" y2="1205.85" stroke="#000" stroke-width="4.7" />
<line x1="172.5" y1="1246.94" x2="179.3" y2="1246.94" stroke="#000" stroke-width="4.7" />
<line x1="166.3" y1="1288.03" x2="179.3" y2="1288.03" stroke="#000" stroke-width="4.7" />
<line x1="172.5" y1="1329.11" x2="179.3" y2="1329.11" stroke="#000" stroke-width="4.7" />
<line x1="166.3" y1="1370.2" x2="179.3" y2="1370.2" stroke="#000" stroke-width="4.7" />
<line x1="172.5" y1="1411.29" x2="179.3" y2="1411.29" stroke="#000" stroke-width="4.7" />
<line x1="166.3" y1="1452.38" x2="179.3" y2="1452.38" stroke="#000" stroke-width="4.7" />
<line x1="172.5" y1="1493.46" x2="179.3" y2="1493.46" stroke="#000" stroke-width="4.7" />
<line x1="166.3" y1="1534.55" x2="179.3" y2="1534.55" stroke="#000" stroke-width="4.7" />
<line x1="172.5" y1="1575.64" x2="179.3" y2="1575.64" stroke="#000" stroke-width="4.7" />
<line x1="166.3" y1="1616.73" x2="179.3" y2="1616.73" stroke="#000" stroke-width="4.7" />
<line x1="172.5" y1="1657.81" x2="179.3" y2="1657.81" stroke="#000" stroke-width="4.7" />
<line x1="166.3" y1="1698.9" x2="179.3" y2="1698.9" stroke="#000" stroke-width="4.7" />
<line x1="178.58" y1="1698.9" x2="178.58" y2="1705.7" stroke="#000" stroke-width="4.7" />
<line x1="260.1" y1="1698.9" x2="260.1" y2="1711.9" stroke="#000" stroke-width="4.7" />
<line x1="341.62" y1="1698.9" x2="341.62" y2="1705.7" stroke="#000" stroke-width="4.7" />
<line x1="423.15" y1="1698.9" x2="423.15" y2="1711.9" stroke="#000" stroke-width="4.7" />
<line x1="504.68" y1="1698.9" x2="504.68" y2="1705.7" stroke="#000" stroke-width="4.7" />
<line x1="586.2" y1="1698.9" x2="586.2" y2="1711.9" stroke="#000" stroke-width="4.7" />
<line x1="667.73" y1="1698.9" x2="667.73" y2="1705.7" stroke="#000" stroke-width="4.7" />
<line x1="749.25" y1="1698.9" x2="749.25" y2="1711.9" stroke="#000" stroke-width="4.7" />
<line x1="830.78" y1="1698.9" x2="830.78" y2="1705.7" stroke="#000" stroke-width="4.7" />
<line x1="912.3" y1="1698.9" x2="912.3" y2="1711.9" stroke="#000" stroke-width="4.7" />
<line x1="993.83" y1="1698.9" x2="993.83" y2="1705.7" stroke="#000" stroke-width="4.7" />
<line x1="260.1" y1="1041.5" x2="260.1" y2="1054.5" stroke="#000" stroke-width="4.7" />
<line x1="341.62" y1="1041.5" x2="341.62" y2="1048.3" stroke="#000" stroke-width="4.7" />
<line x1="423.15" y1="1041.5" x2="423.15" y2="1054.5" stroke="#000" stroke-width="4.7" />
<line x1="504.68" y1="1041.5" x2="504.68" y2="1048.3" stroke="#000" stroke-width="4.7" />
<line x1="586.2" y1="1041.5" x2="586.2" y2="1054.5" stroke="#000" stroke-width="4.7" />
<line x1="667.73" y1="1041.5" x2="667.73" y2="1048.3" stroke="#000" stroke-width="4.7" />
<line x1="749.25" y1="1041.5" x2="749.25" y2="1054.5" stroke="#000" stroke-width="4.7" />
<line x1="830.78" y1="1041.5" x2="830.78" y2="1048.3" stroke="#000" stroke-width="4.7" />
<line x1="912.3" y1="1041.5" x2="912.3" y2="1054.5" stroke="#000" stroke-width="4.7" />
<text transform="translate(156.5 1055) scale(1 1.02)" font-size="44" text-anchor="end" fill="#000" >1.0</text>
<text transform="translate(156.5 1137.17) scale(1 1.02)" font-size="44" text-anchor="end" fill="#000" >0.5</text>
<text transform="translate(156.5 1219.35) scale(1 1.02)" font-size="44" text-anchor="end" fill="#000" >0.0</text>
<text transform="translate(156.5 1301.53) scale(1 1.02)" font-size="44" text-anchor="end" fill="#000" >-0.5</text>
<text transform="translate(156.5 1383.7) scale(1 1.02)" font-size="44" text-anchor="end" fill="#000" >-1.0</text>
<text transform="translate(156.5 1465.88) scale(1 1.02)" font-size="44" text-anchor="end" fill="#000" >-1.5</text>
<text transform="translate(156.5 1548.05) scale(1 1.02)" font-size="44" text-anchor="end" fill="#000" >-2.0</text>
<text transform="translate(156.5 1630.23) scale(1 1.02)" font-size="44" text-anchor="end" fill="#000" >-2.5</text>
<text transform="translate(156.5 1712.4) scale(1 1.02)" font-size="44" text-anchor="end" fill="#000" >-3.0</text>
<text transform="translate(260.1 1754.4) scale(1 1.02)" font-size="44" text-anchor="middle" fill="#000" >35</text>
<text transform="translate(423.15 1754.4) scale(1 1.02)" font-size="44" text-anchor="middle" fill="#000" >36</text>
<text transform="translate(586.2 1754.4) scale(1 1.02)" font-size="44" text-anchor="middle" fill="#000" >37</text>
<text transform="translate(749.25 1754.4) scale(1 1.02)" font-size="44" text-anchor="middle" fill="#000" >38</text>
<text transform="translate(912.3 1754.4) scale(1 1.02)" font-size="44" text-anchor="middle" fill="#000" >39</text>
<text transform="translate(244 1025.9) scale(1 1.05)" font-size="47.7" text-anchor="middle" fill="#000" >60 °C</text>
<text transform="translate(525 1025.9) scale(1 1.05)" font-size="47.7" text-anchor="middle" fill="#000" >45 °C</text>
<text transform="translate(899.5 1025.9) scale(1 1.05)" font-size="47.7" text-anchor="middle" fill="#000" >25 °C</text>
<text transform="translate(65.4 1368.5) rotate(-90) scale(1 1.02)" font-size="56.4" text-anchor="middle">ln r</text>
<text transform="translate(426.5 1841.5) scale(1 1.02)" font-size="55" text-anchor="start">(k<tspan font-size="38" dy="14">B</tspan><tspan dy="-14" dx="2"> T)</tspan><tspan font-size="35" dy="-22">-1</tspan><tspan dy="22" dx="1.6"> / eV</tspan><tspan font-size="35" dy="-22">-1</tspan></text>
<text transform="translate(-1 978) scale(1 1.0)" font-size="57" text-anchor="start" fill="#000" >c<tspan dx="2.5">)</tspan></text>
</g>
<g>
<line x1="1333.9" y1="1026.8" x2="1333.9" y2="1679.4" stroke="#cacaca" stroke-width="1.1" stroke-dasharray="3.4 4.7"/>
<line x1="1495.5" y1="1026.8" x2="1495.5" y2="1679.4" stroke="#cacaca" stroke-width="1.1" stroke-dasharray="3.4 4.7"/>
<line x1="1657.1" y1="1026.8" x2="1657.1" y2="1679.4" stroke="#cacaca" stroke-width="1.1" stroke-dasharray="3.4 4.7"/>
<line x1="1818.7" y1="1026.8" x2="1818.7" y2="1679.4" stroke="#cacaca" stroke-width="1.1" stroke-dasharray="3.4 4.7"/>
<line x1="1980.3" y1="1026.8" x2="1980.3" y2="1679.4" stroke="#cacaca" stroke-width="1.1" stroke-dasharray="3.4 4.7"/>
<line x1="1254" y1="1560.75" x2="2061.6" y2="1560.75" stroke="#cacaca" stroke-width="1.1" stroke-dasharray="3.4 4.7"/>
<line x1="1254" y1="1442.09" x2="2061.6" y2="1442.09" stroke="#cacaca" stroke-width="1.1" stroke-dasharray="3.4 4.7"/>
<line x1="1254" y1="1323.44" x2="2061.6" y2="1323.44" stroke="#cacaca" stroke-width="1.1" stroke-dasharray="3.4 4.7"/>
<line x1="1254" y1="1204.78" x2="2061.6" y2="1204.78" stroke="#cacaca" stroke-width="1.1" stroke-dasharray="3.4 4.7"/>
<line x1="1254" y1="1086.13" x2="2061.6" y2="1086.13" stroke="#cacaca" stroke-width="1.1" stroke-dasharray="3.4 4.7"/>
<rect x="1324.8" y="1322.3" width="18.8" height="18.8" fill="#808080"/>
<rect x="1421.8" y="1220.5" width="18.8" height="18.8" fill="#808080"/>
<rect x="1512.4" y="1234.7" width="18.8" height="18.8" fill="#808080"/>
<rect x="1997.3" y="1132" width="18.8" height="18.8" fill="#808080"/>
<rect x="1324.8" y="1119.4" width="18.8" height="18.8" fill="#ff00ff"/>
<rect x="1421.8" y="1118.5" width="18.8" height="18.8" fill="#ff00ff"/>
<rect x="1512.4" y="1247.6" width="18.8" height="18.8" fill="#ff00ff"/>
<rect x="1997.3" y="1343.2" width="18.8" height="18.8" fill="#ff00ff"/>
<rect x="1324.8" y="1097.4" width="18.8" height="18.8" fill="#7a0000"/>
<rect x="1421.8" y="1294" width="18.8" height="18.8" fill="#7a0000"/>
<rect x="1512.4" y="1269.8" width="18.8" height="18.8" fill="#7a0000"/>
<rect x="1997.3" y="1348.7" width="18.8" height="18.8" fill="#7a0000"/>
<line x1="1431.2" y1="1196.2" x2="1431.2" y2="1220.5" stroke="#808080" stroke-width="1.5" />
<line x1="1431.2" y1="1239.3" x2="1431.2" y2="1262.7" stroke="#808080" stroke-width="1.5" />
<line x1="1424.6" y1="1196.2" x2="1437.8" y2="1196.2" stroke="#808080" stroke-width="1.5" />
<line x1="1424.6" y1="1262.7" x2="1437.8" y2="1262.7" stroke="#808080" stroke-width="1.5" />
<line x1="2006.7" y1="1127.2" x2="2006.7" y2="1132" stroke="#808080" stroke-width="1.5" />
<line x1="2006.7" y1="1150.8" x2="2006.7" y2="1155.7" stroke="#808080" stroke-width="1.5" />
<line x1="2000.1" y1="1127.2" x2="2013.3" y2="1127.2" stroke="#808080" stroke-width="1.5" />
<line x1="2000.1" y1="1155.7" x2="2013.3" y2="1155.7" stroke="#808080" stroke-width="1.5" />
<line x1="1334.2" y1="1110.1" x2="1334.2" y2="1119.4" stroke="#ff00ff" stroke-width="1.5" />
<line x1="1334.2" y1="1138.2" x2="1334.2" y2="1147" stroke="#ff00ff" stroke-width="1.5" />
<line x1="1327.6" y1="1110.1" x2="1340.8" y2="1110.1" stroke="#ff00ff" stroke-width="1.5" />
<line x1="1327.6" y1="1147" x2="1340.8" y2="1147" stroke="#ff00ff" stroke-width="1.5" />
<line x1="1431.2" y1="1073.8" x2="1431.2" y2="1118.5" stroke="#ff00ff" stroke-width="1.5" />
<line x1="1431.2" y1="1137.3" x2="1431.2" y2="1181.1" stroke="#ff00ff" stroke-width="1.5" />
<line x1="1424.6" y1="1073.8" x2="1437.8" y2="1073.8" stroke="#ff00ff" stroke-width="1.5" />
<line x1="1424.6" y1="1181.1" x2="1437.8" y2="1181.1" stroke="#ff00ff" stroke-width="1.5" />
<line x1="1515.2" y1="1251" x2="1528.4" y2="1251" stroke="#ff00ff" stroke-width="1.5" />
<line x1="1515.2" y1="1263" x2="1528.4" y2="1263" stroke="#ff00ff" stroke-width="1.5" />
<line x1="2006.7" y1="1331.2" x2="2006.7" y2="1343.2" stroke="#ff00ff" stroke-width="1.5" />
<line x1="2006.7" y1="1362" x2="2006.7" y2="1374" stroke="#ff00ff" stroke-width="1.5" />
<line x1="2000.1" y1="1331.2" x2="2013.3" y2="1331.2" stroke="#ff00ff" stroke-width="1.5" />
<line x1="2000.1" y1="1374" x2="2013.3" y2="1374" stroke="#ff00ff" stroke-width="1.5" />
<line x1="1334.2" y1="1094.9" x2="1334.2" y2="1097.4" stroke="#8e1b1b" stroke-width="1.5" />
<line x1="1334.2" y1="1116.2" x2="1334.2" y2="1118" stroke="#8e1b1b" stroke-width="1.5" />
<line x1="1327.6" y1="1094.9" x2="1340.8" y2="1094.9" stroke="#8e1b1b" stroke-width="1.5" />
<line x1="1327.6" y1="1118" x2="1340.8" y2="1118" stroke="#8e1b1b" stroke-width="1.5" />
<line x1="1431.2" y1="1257.8" x2="1431.2" y2="1294" stroke="#8e1b1b" stroke-width="1.5" />
<line x1="1431.2" y1="1312.8" x2="1431.2" y2="1347.8" stroke="#8e1b1b" stroke-width="1.5" />
<line x1="1424.6" y1="1257.8" x2="1437.8" y2="1257.8" stroke="#8e1b1b" stroke-width="1.5" />
<line x1="1424.6" y1="1347.8" x2="1437.8" y2="1347.8" stroke="#8e1b1b" stroke-width="1.5" />
<line x1="1521.8" y1="1256.2" x2="1521.8" y2="1269.8" stroke="#8e1b1b" stroke-width="1.5" />
<line x1="1521.8" y1="1288.6" x2="1521.8" y2="1302" stroke="#8e1b1b" stroke-width="1.5" />
<line x1="1515.2" y1="1256.2" x2="1528.4" y2="1256.2" stroke="#8e1b1b" stroke-width="1.5" />
<line x1="1515.2" y1="1302" x2="1528.4" y2="1302" stroke="#8e1b1b" stroke-width="1.5" />
<line x1="2006.7" y1="1301.1" x2="2006.7" y2="1348.7" stroke="#8e1b1b" stroke-width="1.5" />
<line x1="2006.7" y1="1367.5" x2="2006.7" y2="1415.1" stroke="#8e1b1b" stroke-width="1.5" />
<line x1="2000.1" y1="1301.1" x2="2013.3" y2="1301.1" stroke="#8e1b1b" stroke-width="1.5" />
<line x1="2000.1" y1="1415.1" x2="2013.3" y2="1415.1" stroke="#8e1b1b" stroke-width="1.5" />
<rect x="1820" y="1533.1" width="223" height="118.3" fill="#000"/>
<rect x="1811" y="1523.1" width="223" height="118.3" fill="#fff" stroke="#8a8a8a" stroke-width="1"/>
<rect x="1840.45" y="1535.95" width="18.5" height="18.5" fill="#808080"/>
<text transform="translate(1884.4 1555) scale(1 1.02)" font-size="30.5" text-anchor="start" fill="#000" >100% SoC</text>
<rect x="1840.45" y="1573.55" width="18.5" height="18.5" fill="#ff00ff"/>
<text transform="translate(1884.4 1592.6) scale(1 1.02)" font-size="30.5" text-anchor="start" fill="#000" >60% SoC</text>
<rect x="1840.45" y="1611.45" width="18.5" height="18.5" fill="#7a0000"/>
<text transform="translate(1884.4 1630.5) scale(1 1.02)" font-size="30.5" text-anchor="start" fill="#000" >30% SoC</text>
<rect x="1254" y="1026.8" width="807.6" height="652.6" fill="none" stroke="#000" stroke-width="4.8"/>
<line x1="1241" y1="1679.4" x2="1254" y2="1679.4" stroke="#000" stroke-width="4.7" />
<line x1="1247.2" y1="1620.07" x2="1254" y2="1620.07" stroke="#000" stroke-width="4.7" />
<line x1="1241" y1="1560.75" x2="1254" y2="1560.75" stroke="#000" stroke-width="4.7" />
<line x1="1247.2" y1="1501.42" x2="1254" y2="1501.42" stroke="#000" stroke-width="4.7" />
<line x1="1241" y1="1442.09" x2="1254" y2="1442.09" stroke="#000" stroke-width="4.7" />
<line x1="1247.2" y1="1382.76" x2="1254" y2="1382.76" stroke="#000" stroke-width="4.7" />
<line x1="1241" y1="1323.44" x2="1254" y2="1323.44" stroke="#000" stroke-width="4.7" />
<line x1="1247.2" y1="1264.11" x2="1254" y2="1264.11" stroke="#000" stroke-width="4.7" />
<line x1="1241" y1="1204.78" x2="1254" y2="1204.78" stroke="#000" stroke-width="4.7" />
<line x1="1247.2" y1="1145.45" x2="1254" y2="1145.45" stroke="#000" stroke-width="4.7" />
<line x1="1241" y1="1086.13" x2="1254" y2="1086.13" stroke="#000" stroke-width="4.7" />
<line x1="1247.2" y1="1026.8" x2="1254" y2="1026.8" stroke="#000" stroke-width="4.7" />
<line x1="1253.1" y1="1679.4" x2="1253.1" y2="1686.2" stroke="#000" stroke-width="4.7" />
<line x1="1333.9" y1="1679.4" x2="1333.9" y2="1692.4" stroke="#000" stroke-width="4.7" />
<line x1="1414.7" y1="1679.4" x2="1414.7" y2="1686.2" stroke="#000" stroke-width="4.7" />
<line x1="1495.5" y1="1679.4" x2="1495.5" y2="1692.4" stroke="#000" stroke-width="4.7" />
<line x1="1576.3" y1="1679.4" x2="1576.3" y2="1686.2" stroke="#000" stroke-width="4.7" />
<line x1="1657.1" y1="1679.4" x2="1657.1" y2="1692.4" stroke="#000" stroke-width="4.7" />
<line x1="1737.9" y1="1679.4" x2="1737.9" y2="1686.2" stroke="#000" stroke-width="4.7" />
<line x1="1818.7" y1="1679.4" x2="1818.7" y2="1692.4" stroke="#000" stroke-width="4.7" />
<line x1="1899.5" y1="1679.4" x2="1899.5" y2="1686.2" stroke="#000" stroke-width="4.7" />
<line x1="1980.3" y1="1679.4" x2="1980.3" y2="1692.4" stroke="#000" stroke-width="4.7" />
<line x1="2061.1" y1="1679.4" x2="2061.1" y2="1686.2" stroke="#000" stroke-width="4.7" />
<text transform="translate(1231.2 1692.9) scale(1 1.02)" font-size="44" text-anchor="end" fill="#000" >0.0</text>
<text transform="translate(1231.2 1574.25) scale(1 1.02)" font-size="44" text-anchor="end" fill="#000" >0.1</text>
<text transform="translate(1231.2 1455.59) scale(1 1.02)" font-size="44" text-anchor="end" fill="#000" >0.2</text>
<text transform="translate(1231.2 1336.94) scale(1 1.02)" font-size="44" text-anchor="end" fill="#000" >0.3</text>
<text transform="translate(1231.2 1218.28) scale(1 1.02)" font-size="44" text-anchor="end" fill="#000" >0.4</text>
<text transform="translate(1231.2 1099.63) scale(1 1.02)" font-size="44" text-anchor="end" fill="#000" >0.5</text>
<text transform="translate(1333.9 1734.9) scale(1 1.02)" font-size="44" text-anchor="middle" fill="#000" >0</text>
<text transform="translate(1495.5 1734.9) scale(1 1.02)" font-size="44" text-anchor="middle" fill="#000" >5</text>
<text transform="translate(1657.1 1734.9) scale(1 1.02)" font-size="44" text-anchor="middle" fill="#000" >10</text>
<text transform="translate(1818.7 1734.9) scale(1 1.02)" font-size="44" text-anchor="middle" fill="#000" >15</text>
<text transform="translate(1980.3 1734.9) scale(1 1.02)" font-size="44" text-anchor="middle" fill="#000" >20</text>
<text transform="translate(1142 1353) rotate(-90) scale(1 1.02)" font-size="55" text-anchor="middle">E<tspan font-size="38" dy="14">a</tspan><tspan dy="-14"> / eV</tspan></text>
<text transform="translate(1656.5 1813.3) scale(1 1.02)" font-size="55" text-anchor="middle" fill="#000" >Si-content / wt.-%</text>
<text transform="translate(1062.4 978.2) scale(1 1.0)" font-size="57" text-anchor="start" fill="#000" >d<tspan dx="2.5">)</tspan></text>
</g>
</svg>
</div>
</body>
</html>
